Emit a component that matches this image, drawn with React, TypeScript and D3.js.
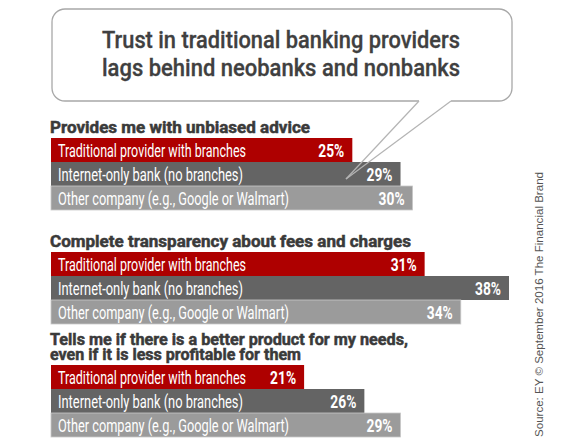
import React from "react";
import * as d3 from "d3";

const titleLines = ["Trust in traditional banking providers", "lags behind neobanks and nonbanks"];
const providers = [
  "Traditional provider with branches",
  "Internet-only bank (no branches)",
  "Other company (e.g., Google or Walmart)",
];
const questions = [
  ["Provides me with unbiased advice"],
  ["Complete transparency about fees and charges"],
  ["Tells me if there is a better product for my needs,", "even if it is less profitable for them"],
];
const traditionalValues = [25, 31, 21];
const internetValues = [29, 38, 26];
const otherValues = [30, 34, 29];
const sourceText = "Source: EY \u00A9 September 2016 The Financial Brand";

const W = 565;
const H = 448;
const colors = ["#ae0000", "#646464", "#9b9b9b"];
const groupTops = [138, 252, 365];
const headingWidths = [[260], [361], [358, 251]];
const labelWidths = [188, 185, 231];

const condensed = "Roboto, 'Liberation Sans', Arial, sans-serif";
const boldFont = "Roboto, 'Liberation Sans', Arial, sans-serif";
const sourceFont = "'Liberation Sans', Arial, sans-serif";

export default function App() {
  const x = d3.scaleLinear().domain([0, 38]).range([51, 509]);
  const band = d3.scaleBand<string>().domain(providers).range([0, 72]).padding(0);
  const series = [traditionalValues, internetValues, otherValues];

  // speech bubble geometry
  const bx0 = 52, by0 = 9, bx1 = 512, by1 = 101, r = 13;
  const tailL = 419, tailR = 451, tipX = 346, tipY = 179;
  const bubble = d3.path();
  bubble.moveTo(tailL, by1);
  bubble.lineTo(bx0 + r, by1);
  bubble.arcTo(bx0, by1, bx0, by1 - r, r);
  bubble.lineTo(bx0, by0 + r);
  bubble.arcTo(bx0, by0, bx0 + r, by0, r);
  bubble.lineTo(bx1 - r, by0);
  bubble.arcTo(bx1, by0, bx1, by0 + r, r);
  bubble.lineTo(bx1, by1 - r);
  bubble.arcTo(bx1, by1, bx1 - r, by1, r);
  bubble.lineTo(tailR, by1);

  return (
    <svg width={W} height={H} style={{ position: "absolute", left: 0, top: 0, background: "#fff" }}>
      <path d={bubble.toString()} fill="#fff" stroke="#a8a8a8" strokeWidth={1.3} />
      {titleLines.map((t, i) => (
        <text
          key={i}
          x={281}
          y={48 + i * 28}
          textAnchor="middle"
          fontFamily={condensed}
          fontWeight={500}
          fontSize={23}
          fill="#404040"
          stroke="#404040"
          strokeWidth={0.3}
          textLength={358}
          lengthAdjust="spacingAndGlyphs"
        >
          {t}
        </text>
      ))}

      {questions.map((lines, g) => {
        const top = groupTops[g];
        return (
          <g key={g}>
            {lines.map((l, li) => (
              <text
                key={li}
                x={50}
                y={top - 5 - (lines.length - 1 - li) * 15}
                fontFamily={boldFont}
                fontWeight="bold"
                fontSize={16}
                fill="#3a3a3a"
                stroke="#3a3a3a"
                strokeWidth={0.5}
                textLength={headingWidths[g][li]}
                lengthAdjust="spacingAndGlyphs"
              >
                {l}
              </text>
            ))}
            {providers.map((p, s) => {
              const v = series[s][g];
              const y0 = top + (band(p) as number);
              return (
                <g key={p}>
                  <rect
                    x={x(0)}
                    y={y0}
                    width={x(v) - x(0)}
                    height={band.bandwidth()}
                    fill={colors[s]}
                    stroke={s === 2 ? "#c8c8c8" : "none"}
                    strokeWidth={0.8}
                  />
                  <text
                    x={58}
                    y={y0 + 18.5}
                    fontFamily={condensed}
                    fontSize={17.5}
                    fill="#fff"
                    textLength={labelWidths[s]}
                    lengthAdjust="spacingAndGlyphs"
                  >
                    {p}
                  </text>
                  <text
                    x={x(v) - 8}
                    y={y0 + 18.5}
                    textAnchor="end"
                    fontFamily={condensed}
                    fontWeight="bold"
                    fontSize={17.5}
                    fill="#fff"
                    textLength={26}
                    lengthAdjust="spacingAndGlyphs"
                  >
                    {`${v}%`}
                  </text>
                </g>
              );
            })}
          </g>
        );
      })}

      <line x1={tailL} y1={by1} x2={tipX} y2={tipY} stroke="#b4b4b4" strokeWidth={1.2} />
      <line x1={tailR} y1={by1} x2={tipX} y2={tipY} stroke="#b4b4b4" strokeWidth={1.2} />

      <text
        transform={`translate(543,437) rotate(-90)`}
        fontFamily={sourceFont}
        fontSize={11.5}
        fill="#555"
        textLength={265}
        lengthAdjust="spacingAndGlyphs"
      >
        {sourceText}
      </text>
    </svg>
  );
}
